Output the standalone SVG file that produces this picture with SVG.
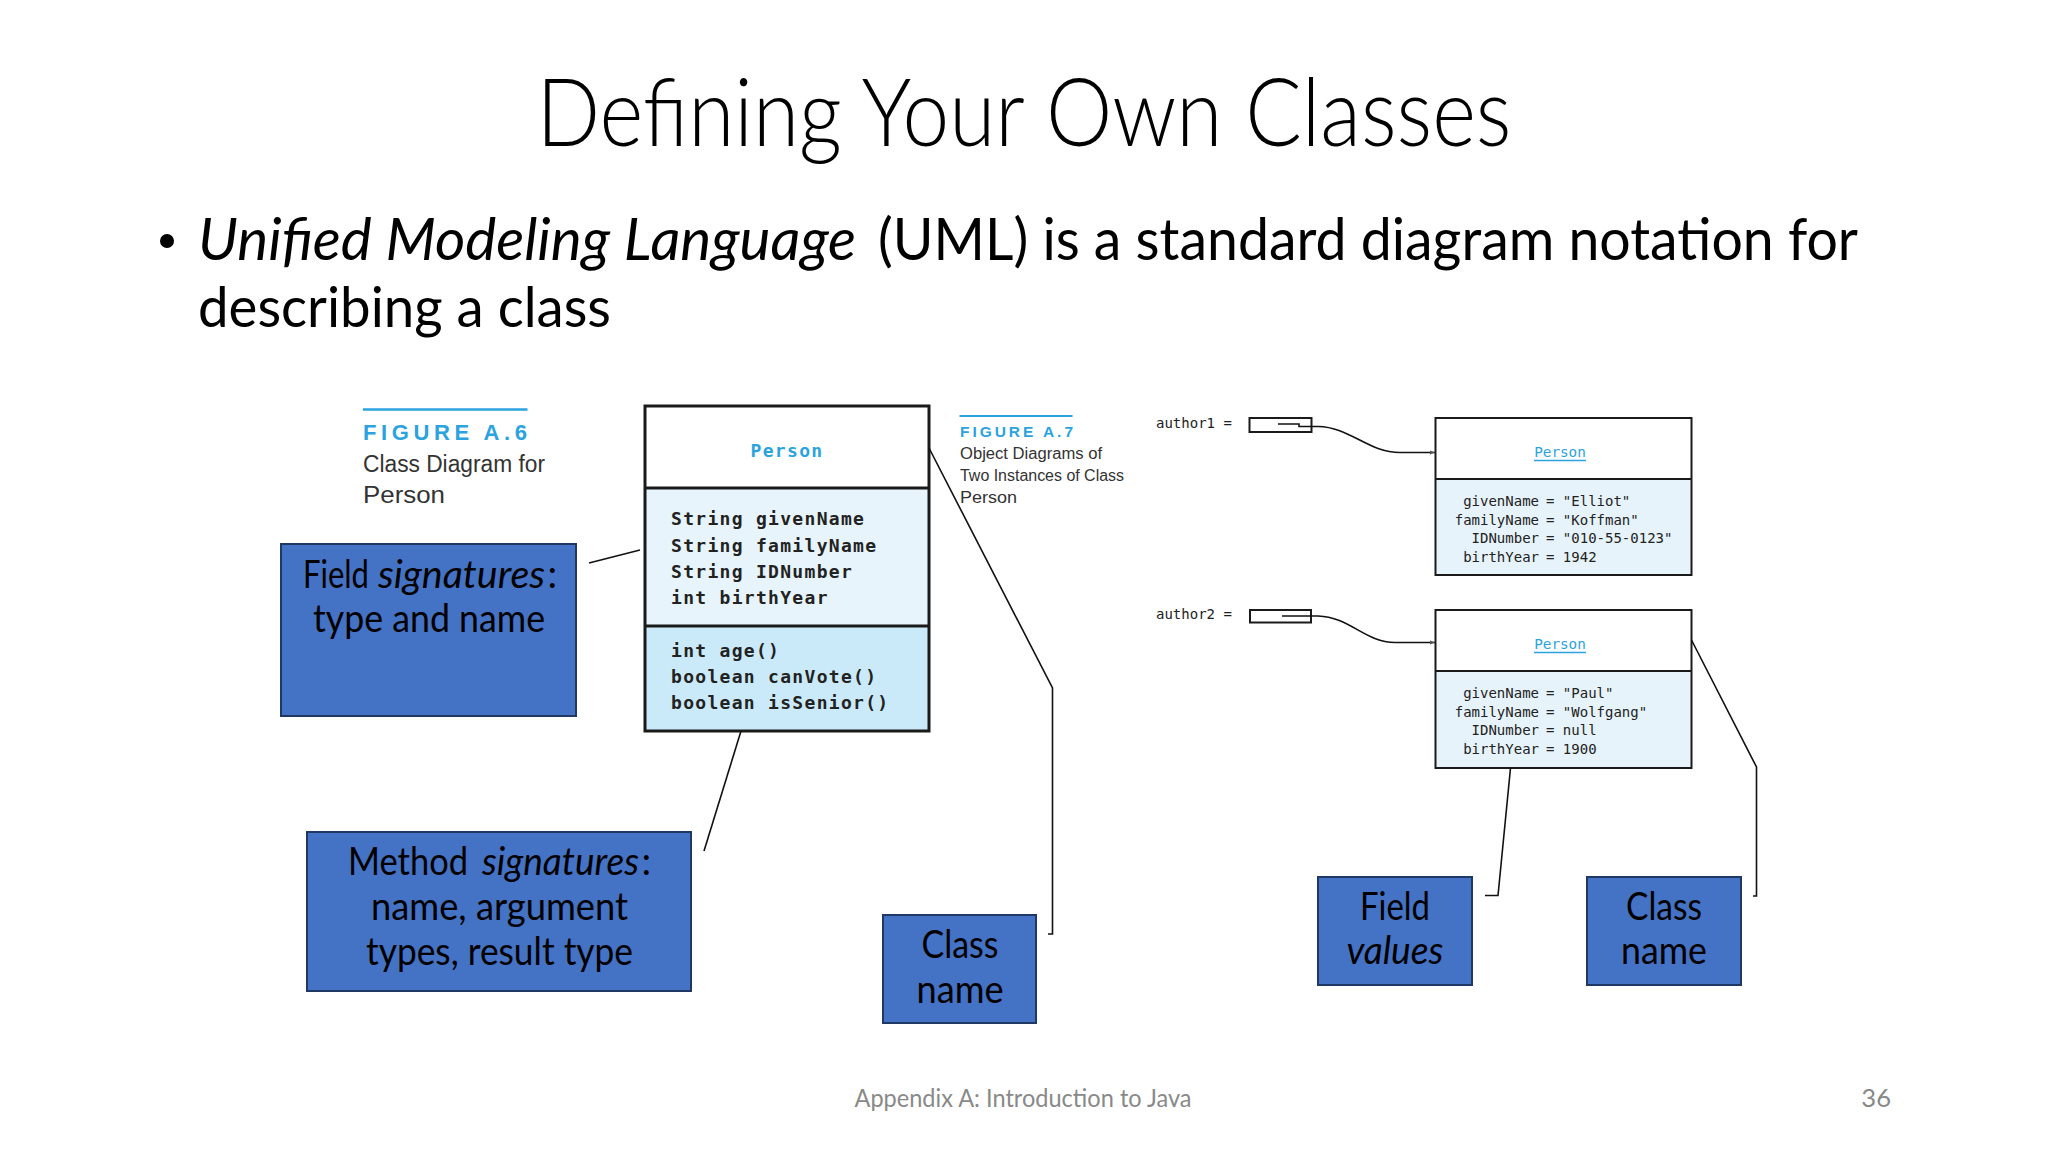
<svg xmlns="http://www.w3.org/2000/svg" width="2048" height="1152" viewBox="0 0 2048 1152">
<style>
.cal{font-family:Lato,"Open Sans","Liberation Sans",sans-serif;fill:#000}
.box{fill:#4472C4;stroke:#1F3864;stroke-width:2}
.lbl{font-size:38.4px;text-anchor:middle}
.lbs{font-size:38.4px}
.mono{font-family:"DejaVu Sans Mono","Liberation Mono",monospace}
.m6{font-size:18px;font-weight:bold;fill:#222;letter-spacing:1.3px}
.m7{font-size:14px;fill:#222}
.cap{font-family:"Liberation Sans",Arial,sans-serif;fill:#333}
.fig{font-family:"Liberation Sans",Arial,sans-serif;font-weight:bold;fill:#2AA3E0}
.conn{fill:none;stroke:#111;stroke-width:1.6}
.ob{stroke:#1a1a1a;stroke-width:2}
</style>
<defs>
<marker id="arr" viewBox="0 0 10 10" refX="10" refY="5" markerWidth="5" markerHeight="5" orient="auto" markerUnits="userSpaceOnUse">
<path d="M0,1 L10,5 L0,9 z" fill="#555"/>
</marker>
</defs>
<rect width="2048" height="1152" fill="#fff"/>

<g id="title">
<text class="cal" x="1024" y="146" font-size="94" font-weight="300" text-anchor="middle" textLength="975" lengthAdjust="spacingAndGlyphs">Defining Your Own Classes</text>
</g>

<g id="bullet">
<circle cx="167" cy="241" r="7" fill="#000"/>
<text class="cal" x="198" y="260" font-size="58" font-style="italic" textLength="658" lengthAdjust="spacingAndGlyphs">Unified Modeling Language</text>
<text class="cal" x="878" y="260" font-size="58" textLength="980" lengthAdjust="spacingAndGlyphs">(UML) is a standard diagram notation for</text>
<text class="cal" x="198" y="327" font-size="56" textLength="413" lengthAdjust="spacingAndGlyphs">describing a class</text>
</g>

<g id="fig-a6-caption">
<line x1="363" y1="409.5" x2="527.5" y2="409.5" stroke="#2AA3E0" stroke-width="2.5"/>
<text class="fig" x="363" y="440" font-size="22" textLength="164" lengthAdjust="spacing">FIGURE A.6</text>
<text class="cap" x="363" y="471.5" font-size="23" textLength="182" lengthAdjust="spacingAndGlyphs">Class Diagram for</text>
<text class="cap" x="363" y="503" font-size="23" textLength="82" lengthAdjust="spacingAndGlyphs">Person</text>
</g>

<g id="person-class">
<rect x="645" y="406" width="284" height="82" fill="#fff"/>
<rect x="645" y="488" width="284" height="138" fill="#E7F4FC"/>
<rect x="645" y="626" width="284" height="105" fill="#CBEAF9"/>
<rect x="645" y="406" width="284" height="325" fill="none" stroke="#1a1a1a" stroke-width="3"/>
<line x1="645" y1="488" x2="929" y2="488" stroke="#1a1a1a" stroke-width="3"/>
<line x1="645" y1="626" x2="929" y2="626" stroke="#1a1a1a" stroke-width="3"/>
<text class="mono m6" x="787" y="457" text-anchor="middle" style="fill:#2AA3E0">Person</text>
<text class="mono m6" x="671" y="525">String givenName</text>
<text class="mono m6" x="671" y="551.5">String familyName</text>
<text class="mono m6" x="671" y="577.5">String IDNumber</text>
<text class="mono m6" x="671" y="603.5">int birthYear</text>
<text class="mono m6" x="671" y="656.5">int age()</text>
<text class="mono m6" x="671" y="683">boolean canVote()</text>
<text class="mono m6" x="671" y="709">boolean isSenior()</text>
</g>

<g id="field-signatures">
<rect class="box" x="281" y="544" width="295" height="172"/>
<text class="cal lbs" x="303" y="588" textLength="66" lengthAdjust="spacingAndGlyphs">Field</text>
<text class="cal lbs" x="378" y="588" font-style="italic" textLength="167" lengthAdjust="spacingAndGlyphs">signatures</text>
<text class="cal lbs" x="547.5" y="588">:</text>
<text class="cal lbl" x="429" y="632" textLength="232" lengthAdjust="spacingAndGlyphs">type and name</text>
</g>

<g id="method-signatures">
<rect class="box" x="307" y="832" width="384" height="159"/>
<text class="cal lbs" x="348" y="875" textLength="120" lengthAdjust="spacingAndGlyphs">Method</text>
<text class="cal lbs" x="482" y="875" font-style="italic" textLength="157" lengthAdjust="spacingAndGlyphs">signatures</text>
<text class="cal lbs" x="641.5" y="875">:</text>
<text class="cal lbl" x="499.5" y="920" textLength="257" lengthAdjust="spacingAndGlyphs">name, argument</text>
<text class="cal lbl" x="499.5" y="965" textLength="267" lengthAdjust="spacingAndGlyphs">types, result type</text>
</g>

<g id="class-name-1">
<rect class="box" x="883" y="915" width="153" height="108"/>
<text class="cal lbl" x="960" y="957.5" textLength="77" lengthAdjust="spacingAndGlyphs">Class</text>
<text class="cal lbl" x="960" y="1003" textLength="87" lengthAdjust="spacingAndGlyphs">name</text>
</g>

<g id="fig-a7-caption">
<line x1="959.5" y1="416" x2="1072.5" y2="416" stroke="#2AA3E0" stroke-width="2"/>
<text class="fig" x="960" y="436.5" font-size="15.5" textLength="113" lengthAdjust="spacing">FIGURE A.7</text>
<text class="cap" x="960" y="459" font-size="16" textLength="142" lengthAdjust="spacingAndGlyphs">Object Diagrams of</text>
<text class="cap" x="960" y="480.5" font-size="16" textLength="164" lengthAdjust="spacingAndGlyphs">Two Instances of Class</text>
<text class="cap" x="960" y="503" font-size="16" textLength="57" lengthAdjust="spacingAndGlyphs">Person</text>
</g>

<g id="author1">
<text class="mono m7" x="1156" y="428">author1 =</text>
<rect x="1249.5" y="418" width="62" height="14" fill="#fff" class="ob"/>
</g>

<g id="author2">
<text class="mono m7" x="1156" y="618.5">author2 =</text>
<rect x="1250" y="610" width="61" height="12.5" fill="#fff" class="ob"/>
</g>

<g id="object1">
<rect x="1435.5" y="418" width="256" height="61" fill="#fff"/>
<rect x="1435.5" y="479" width="256" height="96" fill="#E6F3FB"/>
<rect x="1435.5" y="418" width="256" height="157" fill="none" class="ob"/>
<line x1="1435.5" y1="479" x2="1691.5" y2="479" class="ob"/>
<text class="mono" x="1560" y="457" font-size="14.3" text-anchor="middle" fill="#2AA3E0">Person</text>
<line x1="1534" y1="460.5" x2="1586" y2="460.5" stroke="#2AA3E0" stroke-width="1.5"/>
<text class="mono m7" x="1539" y="506" text-anchor="end">givenName</text>
<text class="mono m7" x="1546" y="506">= "Elliot"</text>
<text class="mono m7" x="1539" y="524.5" text-anchor="end">familyName</text>
<text class="mono m7" x="1546" y="524.5">= "Koffman"</text>
<text class="mono m7" x="1539" y="543" text-anchor="end">IDNumber</text>
<text class="mono m7" x="1546" y="543">= "010-55-0123"</text>
<text class="mono m7" x="1539" y="561.5" text-anchor="end">birthYear</text>
<text class="mono m7" x="1546" y="561.5">= 1942</text>
</g>

<g id="object2">
<rect x="1435.5" y="610" width="256" height="61" fill="#fff"/>
<rect x="1435.5" y="671" width="256" height="97" fill="#E6F3FB"/>
<rect x="1435.5" y="610" width="256" height="158" fill="none" class="ob"/>
<line x1="1435.5" y1="671" x2="1691.5" y2="671" class="ob"/>
<text class="mono" x="1560" y="649" font-size="14.3" text-anchor="middle" fill="#2AA3E0">Person</text>
<line x1="1534" y1="652.5" x2="1586" y2="652.5" stroke="#2AA3E0" stroke-width="1.5"/>
<text class="mono m7" x="1539" y="698" text-anchor="end">givenName</text>
<text class="mono m7" x="1546" y="698">= "Paul"</text>
<text class="mono m7" x="1539" y="716.5" text-anchor="end">familyName</text>
<text class="mono m7" x="1546" y="716.5">= "Wolfgang"</text>
<text class="mono m7" x="1539" y="735" text-anchor="end">IDNumber</text>
<text class="mono m7" x="1546" y="735">= null</text>
<text class="mono m7" x="1539" y="753.5" text-anchor="end">birthYear</text>
<text class="mono m7" x="1546" y="753.5">= 1900</text>
</g>

<g id="field-values">
<rect class="box" x="1318" y="877" width="154" height="108"/>
<text class="cal lbl" x="1395" y="920" textLength="70" lengthAdjust="spacingAndGlyphs">Field</text>
<text class="cal lbl" x="1395" y="963.5" font-style="italic" textLength="97" lengthAdjust="spacingAndGlyphs">values</text>
</g>

<g id="class-name-2">
<rect class="box" x="1587" y="877" width="154" height="108"/>
<text class="cal lbl" x="1664" y="920" textLength="76" lengthAdjust="spacingAndGlyphs">Class</text>
<text class="cal lbl" x="1664" y="963.5" textLength="86" lengthAdjust="spacingAndGlyphs">name</text>
</g>

<g id="connectors">
<path class="conn" d="M589,563 L640,550"/>
<path class="conn" d="M741,731 L704,851"/>
<path class="conn" d="M929,448 L1052.5,688 V934 H1048"/>
<path class="conn" stroke-width="2" d="M1278,424 H1299 V426.5 H1318 C1350,427 1368,452.5 1400,452.5 H1435" marker-end="url(#arr)"/>
<path class="conn" stroke-width="2" d="M1282,616 H1318 C1350,617 1365,642.5 1395,642.5 H1435" marker-end="url(#arr)"/>
<path class="conn" d="M1510.5,768 L1498,895.5 H1485"/>
<path class="conn" d="M1691.5,640 L1756.5,767 V896 H1753"/>
</g>

<g id="footer">
<text class="cal" x="1023" y="1107" font-size="25.6" text-anchor="middle" style="fill:#898989" textLength="337" lengthAdjust="spacingAndGlyphs">Appendix A: Introduction to Java</text>
<text class="cal" x="1891" y="1107" font-size="25.6" text-anchor="end" style="fill:#898989">36</text>
</g>
</svg>
